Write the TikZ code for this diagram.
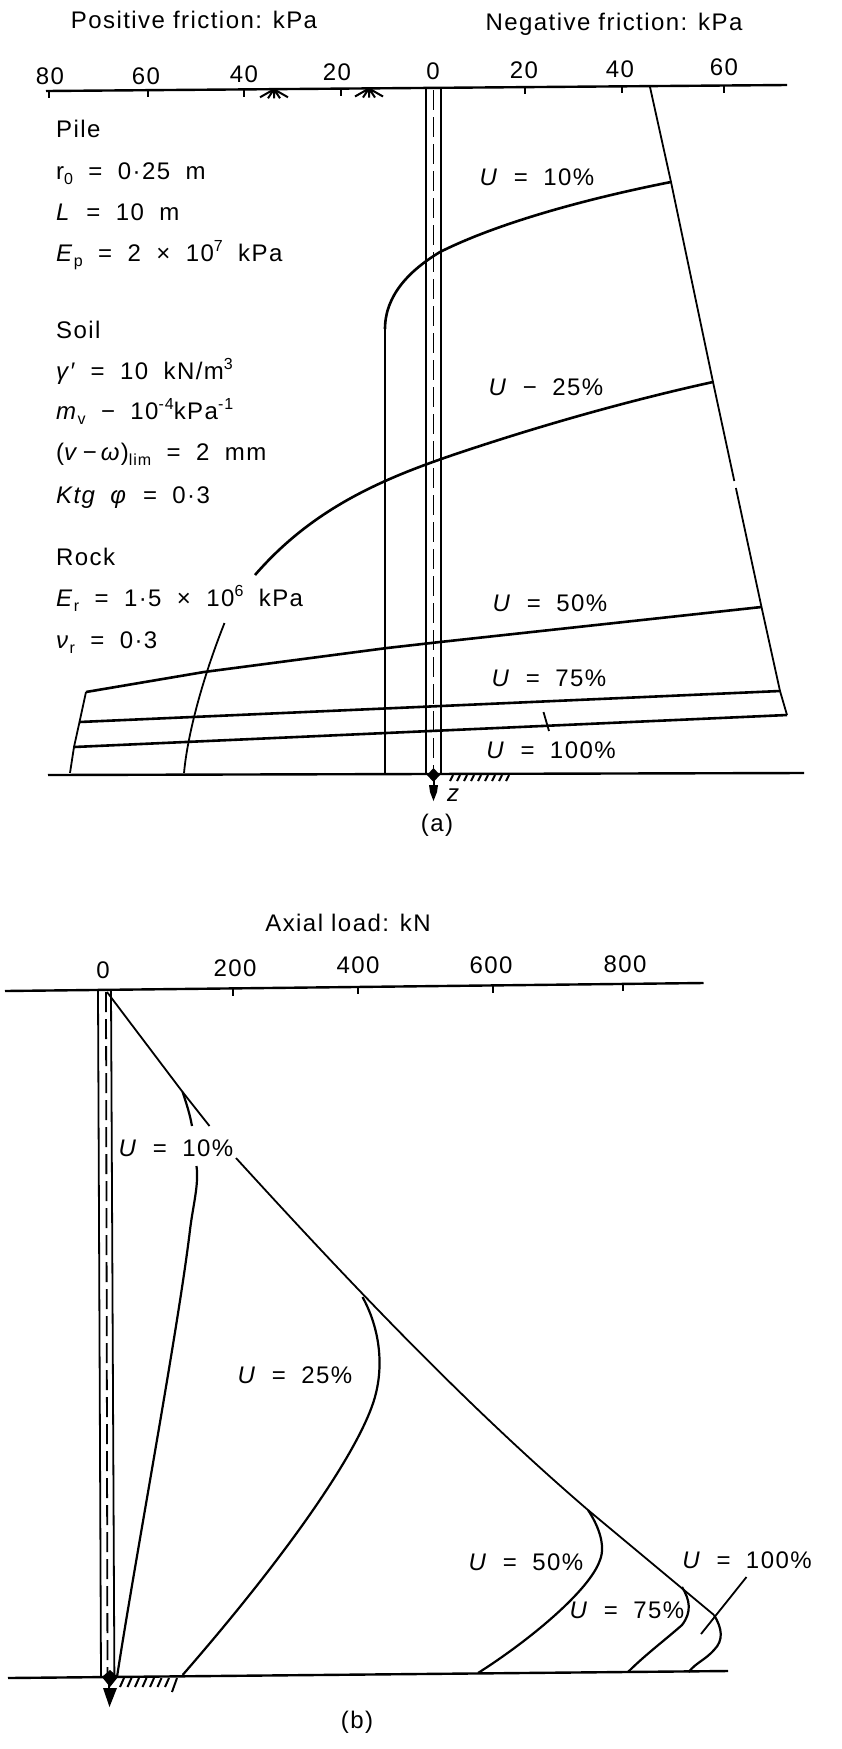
\documentclass[tikz,border=0pt]{standalone}
\usepackage{fontspec}
\setmainfont[LetterSpace=6]{Liberation Sans}
\newfontfamily\widef[LetterSpace=6,WordSpace=1.9]{Liberation Sans}
\newcommand\lowr[1]{\raisebox{-5pt}{\fontsize{16}{16}\selectfont #1}}
\newcommand\upr[1]{\raisebox{10pt}{\fontsize{16}{16}\selectfont #1}}
\tikzset{
 txt/.style={anchor=base west,inner sep=0pt,font=\fontsize{24}{28}\widef},
 ctxt/.style={anchor=base,inner sep=0pt,font=\fontsize{24}{28}\selectfont},
 utxt/.style={anchor=base,inner sep=0pt,font=\fontsize{24}{28}\widef},
 axisline/.style={line width=2.4pt},
 tickm/.style={line width=2pt},
 thin1/.style={line width=1.8pt,line join=round},
 curve/.style={line width=2.6pt,line join=round},
 bcurve/.style={line width=2.2pt,line join=round},
 pile/.style={line width=1.8pt},
 pilec/.style={line width=1.8pt,dash pattern=on 20pt off 7pt},
 hatchm/.style={line width=2pt}
}
\begin{document}
\begin{tikzpicture}[x=1pt,y=-1pt]
\useasboundingbox (0,0) rectangle (842,1749);
% ---------- (a) ----------
\node[ctxt] (t1) at (194,28) {Positive friction: kPa};
\node[ctxt] (t2) at (614,30) {Negative friction: kPa};
\node[ctxt] (l80) at (50,84) {80};
\node[ctxt] (l60) at (146,84) {60};
\node[ctxt] (l40) at (244,82) {40};
\node[ctxt] (l20) at (337,80) {20};
\node[ctxt] (l0) at (433,79) {0};
\node[ctxt] (r20) at (524,78) {20};
\node[ctxt] (r40) at (620,77) {40};
\node[ctxt] (r60) at (724,75) {60};
\draw[axisline] (46,91) -- (787,85);
\foreach \x/\y in {49/91,148/90.2,244/89.5,341/88.7,525/87.2,622/86.4,724/85.6}
  \draw[tickm] (\x,\y) -- +(0,7);
% grass marks
\foreach \x/\y/\d in {274/89.3/0,369/88.5/1}{
  \draw[hatchm] (\x,\y) -- +(-6,9) (\x,\y) -- +(6,9) (\x,\y) -- +(-14,8) (\x,\y) -- +(14,8) (\x,\y) -- +(0,9);
}
% pile a
\draw[pile] (426,89) -- (426,773);
\draw[pile] (441,88) -- (441,773);
\draw[pilec] (433.5,90) -- (433.5,773);
% envelope
\draw[thin1] (650,87) -- (671,182) -- (713,382) -- (734.3,481);
\draw[thin1] (735.9,488) -- (761.5,607) -- (780,691) -- (787,715);
% left envelope
\draw[thin1] (86,692) -- (79.5,722) -- (74,747) -- (70,773);
% U=10
\draw[curve] (671,182) .. controls (590,198) and (500,222) .. (440,252) .. controls (410,270) and (385,295) .. (385,329);
\draw[thin1] (385,329) -- (385,773);
% U=25
\draw[curve] (713,382) .. controls (640,398) and (560,420) .. (483,445) .. controls (400,472) and (320,500) .. (255,575);
\draw[thin1] (224.5,623) .. controls (205,672) and (188,730) .. (184,773);
% U=50,75,100
\draw[curve] (761.5,607) -- (440,642) -- (387,648) -- (204,672) -- (86,692);
\draw[curve] (780,691) -- (79.5,722);
\draw[curve] (787,715) -- (74,747);
\draw[thin1] (543.5,712) -- (549,731);
% base a
\draw[axisline] (48,775) -- (804,773);
\foreach \i in {0,...,8} \draw[hatchm] (450+\i*7,781) -- +(3,-6);
\draw[line width=2pt] (433.5,774) -- (433.5,786);
\fill (433.5,768) -- (440,775) -- (433.5,782) -- (427,775) -- cycle;
\fill (429,785) -- (438,785) -- (437,792) -- (433.5,801) -- (430,792) -- cycle;
\node[txt,font=\fontsize{24}{28}\selectfont\itshape] (zl) at (447,801) {z};
\node[ctxt] (cap1) at (437,831) {(a)};
% left text
\node[txt] (pile) at (56,137) {Pile};
\node[txt] (r0) at (56,179) {r\lowr{0} = 0·25 m};
\node[txt] (L) at (56,220) {\textit{L} = 10 m};
\node[txt] (Ep) at (56,261) {\textit{E}\lowr{p} = 2 × 10\upr{7} kPa};
\node[txt] (soil) at (56,338) {Soil};
\node[txt] (gam) at (56,379) {\textit{γ}′ = 10 kN/m\upr{3}};
\node[txt] (mv) at (56,419) {\textit{m}\lowr{v} − 10\upr{-4}kPa\upr{-1}};
\node[txt] (vw) at (56,460) {(\textit{v}\,−\,\textit{ω})\lowr{lim} = 2 mm};
\node[txt] (kt) at (56,503) {\textit{Ktg φ} = 0·3};
\node[txt] (rock) at (56,565) {Rock};
\node[txt] (Er) at (56,606) {\textit{E}\lowr{r} = 1·5 × 10\upr{6} kPa};
\node[txt] (nr) at (56,648) {\textit{ν}\lowr{r} = 0·3};
\node[utxt] (u10) at (537,185) {\textit{U} = 10\%};
\node[utxt] (u25) at (546,395) {\textit{U} − 25\%};
\node[utxt] (u50) at (550,611) {\textit{U} = 50\%};
\node[utxt] (u75) at (549,686) {\textit{U} = 75\%};
\node[utxt] (u100) at (551,758) {\textit{U} = 100\%};
% ---------- (b) ----------
\node[ctxt] (t3) at (348,931) {Axial load: kN};
\node[ctxt] (b0) at (103,978) {0};
\node[ctxt] (b200) at (235,976) {200};
\node[ctxt] (b400) at (358,973) {400};
\node[ctxt] (b600) at (491,973) {600};
\node[ctxt] (b800) at (625,972) {800};
\draw[axisline] (5,991) -- (703.5,983);
\foreach \x/\y in {232.5/988.5,358/987,493/985.5,623/984}
  \draw[tickm] (\x,\y) -- +(0,7);
% pile b
\draw[pile] (98,991) -- (101,1677);
\draw[pile] (111,991) -- (114.4,1677);
\draw[pilec] (106,992) -- (107.5,1677);
% envelope b
\draw[thin1] (107,992) -- (182.6,1092) -- (209.5,1126);
\draw[thin1] (236,1158) .. controls (340,1272) and (460,1400) .. (588,1510) -- (714,1615);
% curves b
\draw[bcurve] (182.6,1092) .. controls (187,1105) and (190,1115) .. (192,1126);
\draw[bcurve] (196.5,1166) .. controls (199,1185) and (193,1205) .. (190,1230) .. controls (178,1330) and (135,1560) .. (117,1677);
\draw[bcurve] (362.5,1297) .. controls (378,1325) and (384,1360) .. (376,1393) .. controls (365,1440) and (300,1540) .. (182.6,1675);
\draw[bcurve] (588,1510) .. controls (598,1525) and (606,1545) .. (600,1560) .. controls (590,1590) and (530,1640) .. (478,1673);
\draw[bcurve] (682,1587) .. controls (690,1600) and (692,1612) .. (682,1625) .. controls (665,1640) and (645,1655) .. (628,1672);
\draw[bcurve] (714,1615) .. controls (722,1628) and (724,1640) .. (714,1650) .. controls (705,1660) and (697,1662) .. (688.5,1672);
\draw[thin1] (746.5,1577) -- (701,1634);
% base b
\draw[axisline] (8,1678) -- (728,1671);
\foreach \i in {0,...,6} \draw[hatchm] (120+\i*7.5,1687) -- +(4,-9);
\draw[hatchm] (172,1692) -- (177,1678);
\draw[line width=2pt] (109,1678) -- (109,1690);
\fill (110,1670) -- (118,1677) -- (110,1687) -- (102,1677) -- cycle;
\fill (103,1688) -- (117,1688) -- (109.5,1707) -- cycle;
\node[ctxt] (cap2) at (357,1728) {(b)};
\node[utxt] (bu10) at (176,1156) {\textit{U} = 10\%};
\node[utxt] (bu25) at (295,1383) {\textit{U} = 25\%};
\node[utxt] (bu50) at (526,1570) {\textit{U} = 50\%};
\node[utxt] (bu75) at (627,1618) {\textit{U} = 75\%};
\node[utxt] (bu100) at (747,1568) {\textit{U} = 100\%};
\end{tikzpicture}
\end{document}
